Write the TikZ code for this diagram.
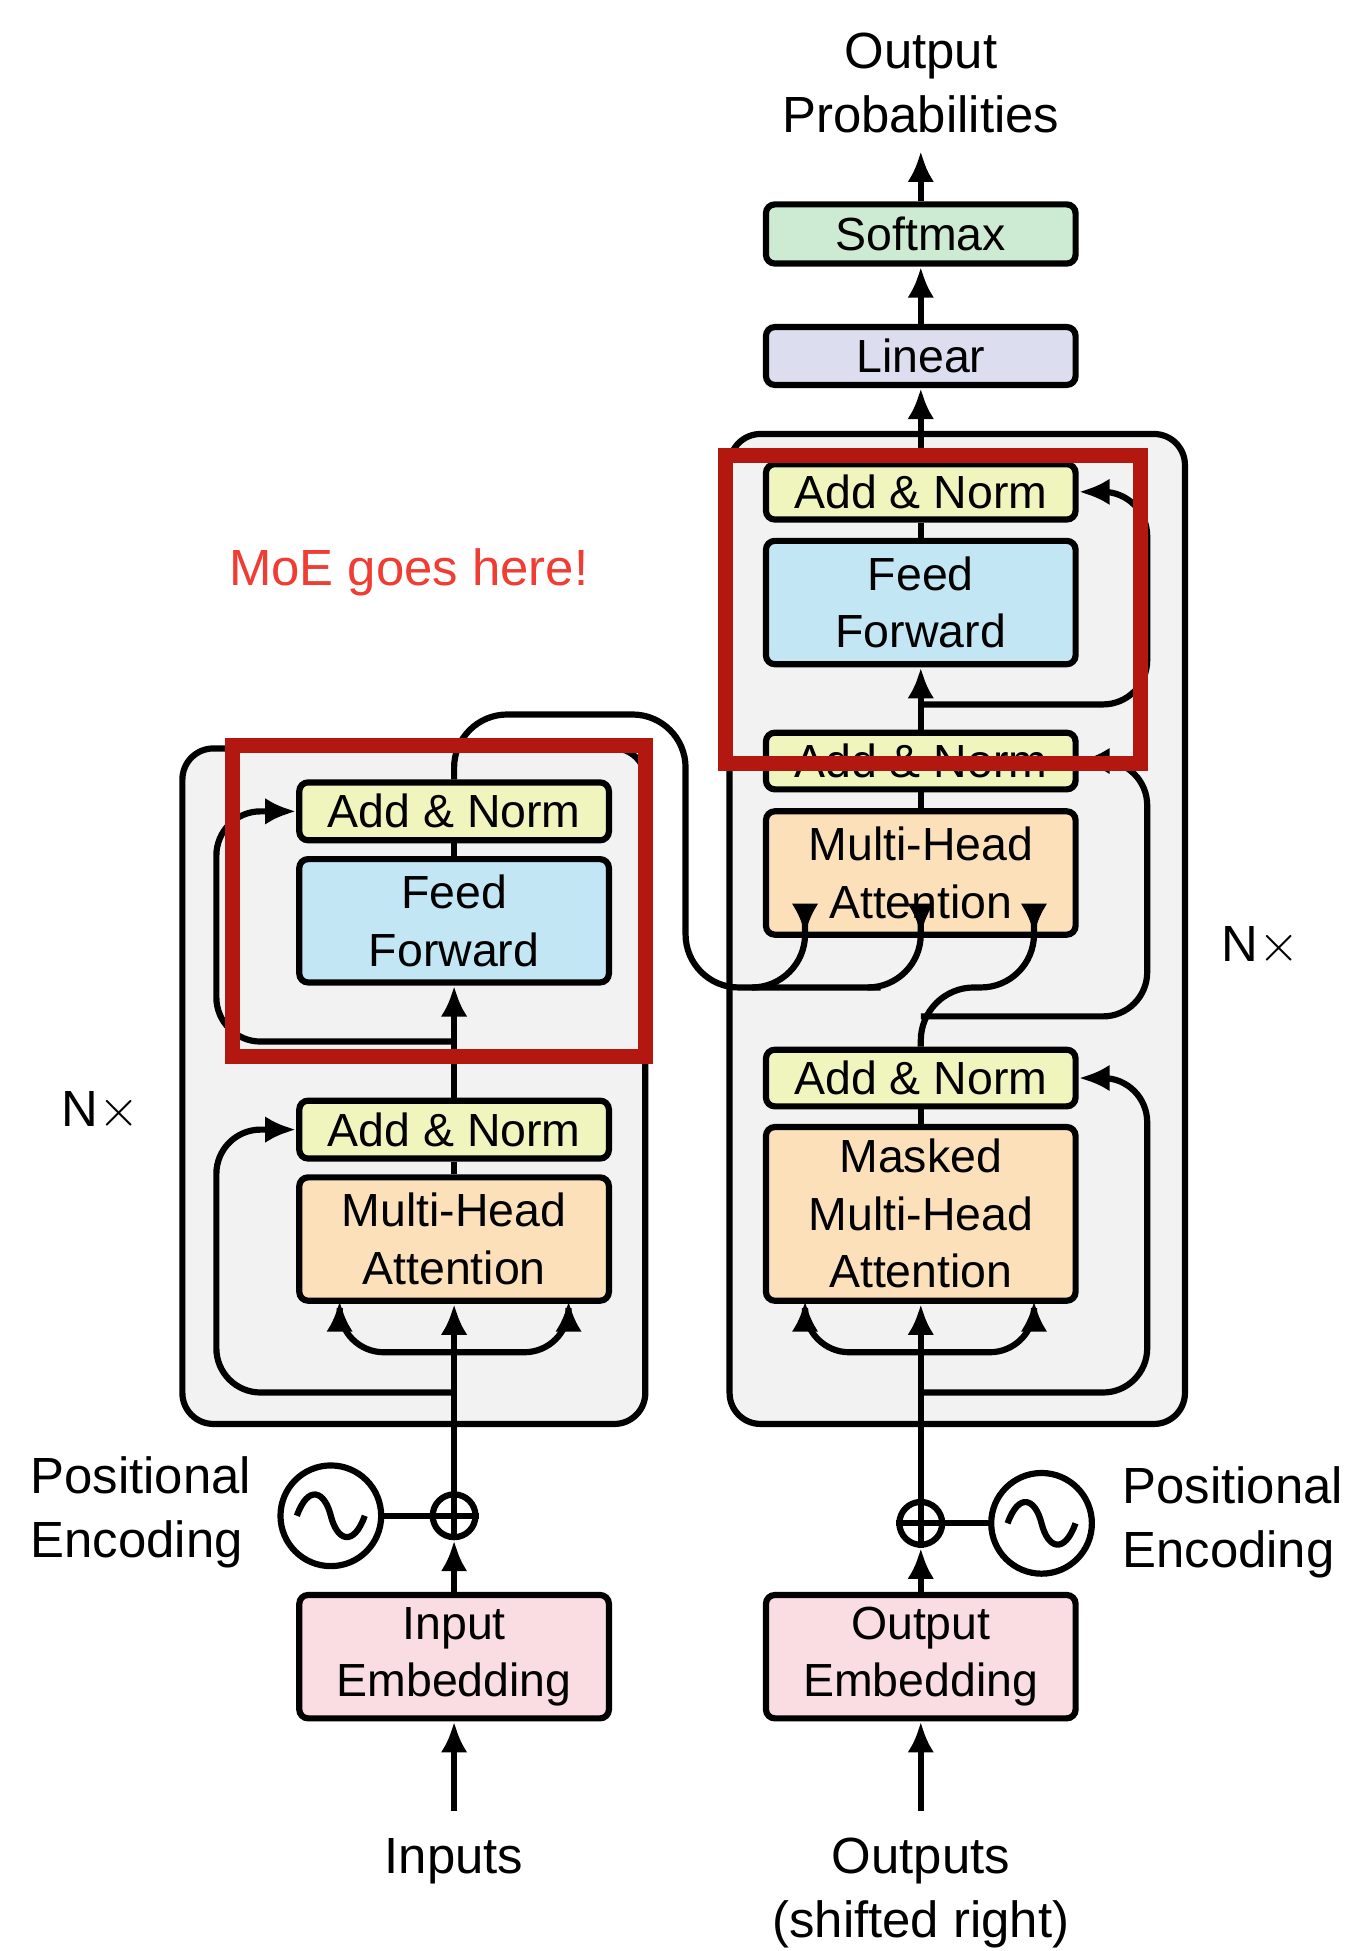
\documentclass[tikz,border=0pt]{standalone}
\usepackage{fontspec}
\setmainfont{Liberation Sans}
\usetikzlibrary{arrows.meta}
\definecolor{addcol}{RGB}{240,245,190}
\definecolor{ffcol}{RGB}{195,230,245}
\definecolor{attcol}{RGB}{252,224,186}
\definecolor{embcol}{RGB}{250,221,226}
\definecolor{lincol}{RGB}{220,222,240}
\definecolor{smcol}{RGB}{205,235,210}
\definecolor{moered}{RGB}{178,24,16}
\definecolor{moetext}{RGB}{240,60,50}
\begin{document}
\begin{tikzpicture}[x=0.01cm,y=-0.01cm,line width=1.4pt,>={Latex[length=7pt,width=6pt]},
  blk/.style={draw,rounded corners=2pt,minimum width=2.46cm,align=center,inner sep=0pt,font=\fontsize{10.5}{13}\selectfont},
  txt/.style={align=center,font=\fontsize{11.5}{14.5}\selectfont},
  bg/.style={draw,fill=black!5,rounded corners=7pt},
  moe/.style={draw=moered,line width=3.4pt}]
  \useasboundingbox (0,0) rectangle (1080,1551);
  % stacks
  \draw[bg] (145,595) rectangle (513,1132);
  \draw[bg] (580,345) rectangle (942,1132);
  % encoder
  \node[blk,fill=addcol,minimum height=0.46cm] (ean2) at (361,645) {Add \& Norm};
  \node[blk,fill=ffcol,minimum height=0.98cm] (eff) at (361,732) {Feed\\Forward};
  \node[blk,fill=addcol,minimum height=0.46cm] (ean1) at (361,898) {Add \& Norm};
  \node[blk,fill=attcol,minimum height=0.98cm] (emha) at (361,985) {Multi-Head\\Attention};
  \node[blk,fill=embcol,minimum height=0.98cm] (iemb) at (361,1317) {Input\\Embedding};
  \node[draw,circle,minimum size=0.34cm,inner sep=0pt] (eplus) at (361,1205) {};
  \draw (eplus.north) -- (eplus.south) (eplus.west) -- (eplus.east);
  \node[draw,circle,minimum size=0.8cm] (epos) at (263,1205) {};
  \draw (236,1205) .. controls (245,1180) and (258,1185) .. (263,1205) .. controls (268,1225) and (281,1230) .. (290,1205);
  % decoder
  \node[blk,fill=addcol,minimum height=0.44cm] (dan3) at (732,391) {Add \& Norm};
  \node[blk,fill=ffcol,minimum height=0.98cm] (dff) at (732,479) {Feed\\Forward};
  \node[blk,fill=addcol,minimum height=0.45cm] (dan2) at (732,605) {Add \& Norm};
  \node[blk,fill=attcol,minimum height=0.98cm] (dmha) at (732,694) {Multi-Head\\Attention};
  \node[blk,fill=addcol,minimum height=0.45cm] (dan1) at (732,857) {Add \& Norm};
  \node[blk,fill=attcol,minimum height=1.38cm] (dmmha) at (732,965) {Masked\\Multi-Head\\Attention};
  \node[blk,fill=embcol,minimum height=0.98cm] (oemb) at (732,1317) {Output\\Embedding};
  \node[blk,fill=lincol,minimum height=0.46cm] (lin) at (732,283) {Linear};
  \node[blk,fill=smcol,minimum height=0.47cm] (soft) at (732,186) {Softmax};
  \node[draw,circle,minimum size=0.34cm,inner sep=0pt] (dplus) at (732,1211) {};
  \draw (dplus.north) -- (dplus.south) (dplus.west) -- (dplus.east);
  \node[draw,circle,minimum size=0.8cm] (dpos) at (828,1211) {};
  \draw (801,1211) .. controls (810,1186) and (823,1191) .. (828,1211) .. controls (833,1231) and (846,1236) .. (855,1211);
  % texts
  \node[txt] (outp) at (732,66) {Output\\Probabilities};
  \node[txt] (inp) at (361,1480) {Inputs};
  \node[txt] (outs) at (732,1505) {Outputs\\(shifted right)};
  \node[txt,align=left] (epe) at (112,1202) {Positional\\Encoding};
  \node[txt,align=left] (dpe) at (980,1210) {Positional\\Encoding};
  \node[txt] (enx) at (80,883) {N$\times$};
  \node[txt] (dnx) at (1002,752) {N$\times$};
  \node[txt,text=moetext] (moe) at (325,455) {MoE goes here!};
  % encoder flow
  \draw[->] (361,1440) -- (iemb.south);
  \draw[->] (iemb.north) -- (eplus.south);
  \draw (epos.east) -- (eplus.west);
  \draw[->] (eplus.north) -- (emha.south);
  \draw[->,rounded corners=10pt] (361,1075) -- (270,1075) -- (270,1034);
  \draw[->,rounded corners=10pt] (361,1075) -- (452,1075) -- (452,1034);
  \draw[->,rounded corners=10pt] (361,1107) -- (172,1107) -- (172,898) -- (ean1.west);
  \draw (emha.north) -- (ean1.south);
  \draw[->] (ean1.north) -- (eff.south);
  \draw[->,rounded corners=10pt] (361,828) -- (172,828) -- (172,645) -- (ean2.west);
  \draw (eff.north) -- (ean2.south);
  % encoder to decoder
  \draw[rounded corners=12pt] (ean2.north) -- (361,568) -- (545,568) -- (545,785) -- (700,785);
  \draw[->,rounded corners=12pt] (600,785) -- (640,785) -- (640,743);
  \draw[->,rounded corners=12pt] (690,785) -- (732,785) -- (732,743);
  % decoder flow
  \draw[->] (732,1440) -- (oemb.south);
  \draw[->] (oemb.north) -- (dplus.south);
  \draw (dpos.west) -- (dplus.east);
  \draw[->] (dplus.north) -- (dmmha.south);
  \draw[->,rounded corners=10pt] (732,1075) -- (640,1075) -- (640,1034);
  \draw[->,rounded corners=10pt] (732,1075) -- (822,1075) -- (822,1034);
  \draw[->,rounded corners=10pt] (732,1107) -- (912,1107) -- (912,857) -- (dan1.east);
  \draw (dmmha.north) -- (dan1.south);
  \draw[->,rounded corners=12pt] (dan1.north) -- (732,785) -- (822,785) -- (822,743);
  \draw[->,rounded corners=10pt] (732,808) -- (912,808) -- (912,605) -- (dan2.east);
  \draw (dmha.north) -- (dan2.south);
  \draw[->] (dan2.north) -- (dff.south);
  \draw[->,rounded corners=10pt] (732,560) -- (912,560) -- (912,391) -- (dan3.east);
  \draw (dff.north) -- (dan3.south);
  \draw[->] (dan3.north) -- (lin.south);
  \draw[->] (lin.north) -- (soft.south);
  \draw[->] (soft.north) -- (outp.south);
  % MoE frames
  \draw[moe] (185,593) rectangle (513,840);
  \draw[moe] (577,362) rectangle (907,607);
\end{tikzpicture}
\end{document}
